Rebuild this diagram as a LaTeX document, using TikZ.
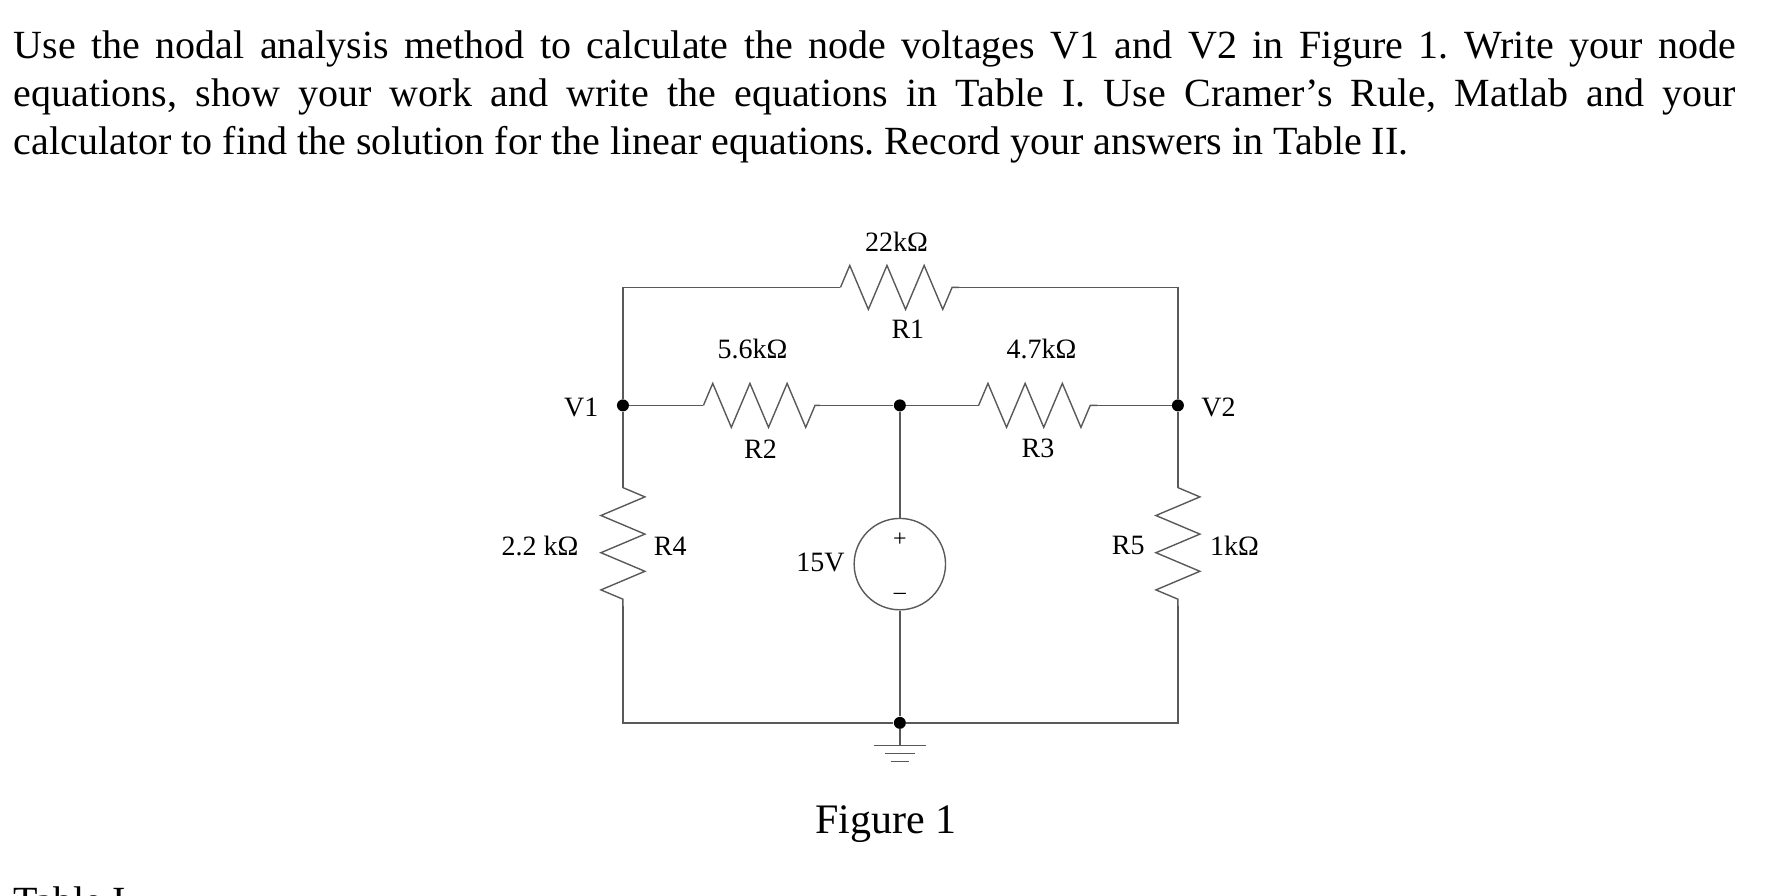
\documentclass[tikz,border=0pt]{standalone}
\usepackage{fontspec}
\setmainfont{Liberation Serif}
\usetikzlibrary{positioning, decorations.pathmorphing}
\tikzset{
    % wires and parts
    wire/.style={draw=black!65, line width=0.7pt},
    resistor/.style={wire, decorate, decoration={zigzag, segment length=18.6pt, amplitude=11pt}},
    junction/.style={circle, fill=black, inner sep=0pt, minimum size=6pt},
    source/.style={circle, wire, minimum size=45.7pt, inner sep=0pt},
    % text
    partLabel/.style={font=\fontsize{14}{16}\selectfont, inner sep=0pt},
    bodyText/.style={font=\fontsize{20}{24.1}\selectfont, inner sep=0pt, anchor=base west, text width=861pt, align=justify}
}
\frenchspacing
\begin{document}
\begin{tikzpicture}[x=0.571pt, y=-0.571pt]
    \useasboundingbox (0,0) rectangle (1560.5,784.6);

    % --- Task text ---
    \node (task) [bodyText] at (11.8,51) {Use the nodal analysis method to calculate the node voltages V1 and V2 in Figure 1. Write your node\linebreak
    equations, show your work and write the equations in Table I. Use Cramer’s Rule, Matlab and your\linebreak
    calculator to find the solution for the linear equations. Record your answers in Table II.};
    \node (table) [font=\fontsize{20}{24}\selectfont, inner sep=0pt, anchor=base west] at (11.8,801) {Table I};

    % --- Circuit corners ---
    \coordinate (tl) at (545.5,251.7);
    \coordinate (tr) at (1031.5,251.7);
    \coordinate (bl) at (545.5,633);
    \coordinate (br) at (1031.5,633);
    \node (v1) [junction] at (545.5,355) {};
    \node (v2) [junction] at (1031.5,355) {};
    \node (mid) [junction] at (788,355) {};
    \node (gnd) [junction] at (788,633) {};

    % --- Resistor ends ---
    \coordinate (r1a) at (736,251.7);  \coordinate (r1b) at (840,251.7);
    \coordinate (r2a) at (616,355);    \coordinate (r2b) at (718,355);
    \coordinate (r3a) at (857,355);    \coordinate (r3b) at (961,355);
    \coordinate (r4a) at (545.5,427);  \coordinate (r4b) at (545.5,531);
    \coordinate (r5a) at (1031.5,427); \coordinate (r5b) at (1031.5,531);

    % --- Wires ---
    \draw [wire] (v1) -- (tl) -- (r1a);
    \draw [wire] (r1b) -- (tr) -- (v2);
    \draw [wire] (v1) -- (r2a);
    \draw [wire] (r2b) -- (mid) -- (r3a);
    \draw [wire] (r3b) -- (v2);
    \draw [wire] (v1) -- (r4a);
    \draw [wire] (r4b) -- (bl) -- (gnd) -- (br) -- (r5b);
    \draw [wire] (v2) -- (r5a);

    % --- Resistors ---
    \draw [resistor] (r1a) -- (r1b);
    \draw [resistor] (r2a) -- (r2b);
    \draw [resistor] (r3a) -- (r3b);
    \draw [resistor] (r4a) -- (r4b);
    \draw [resistor] (r5a) -- (r5b);

    % --- Source ---
    \node (src) [source] at (788,494) {};
    \node (plus) [partLabel, font=\fontsize{12}{12}\selectfont] at (788,473) {+};
    \node (minus) [partLabel, font=\fontsize{12}{12}\selectfont] at (788,522) {--};
    \draw [wire] (mid) -- (src.north);
    \draw [wire] (src.south) -- (gnd);

    % --- Ground ---
    \coordinate (gtop) at (788,653);
    \draw [wire] (gnd) -- (gtop);
    \draw [wire] (765.5,653) -- (810.5,653);
    \draw [wire] (775,660) -- (801,660);
    \draw [wire] (780,667) -- (796,667);

    % --- Labels ---
    \node (r1val) [partLabel] at (785,212) {22kΩ};
    \node (r1name) [partLabel] at (795,288) {R1};
    \node (r2val) [partLabel] at (659,306) {5.6kΩ};
    \node (r2name) [partLabel] at (666,393) {R2};
    \node (r3val) [partLabel] at (912,306) {4.7kΩ};
    \node (r3name) [partLabel] at (909,393) {R3};
    \node (v1name) [partLabel] at (509,357) {V1};
    \node (v2name) [partLabel] at (1067,357) {V2};
    \node (r4val) [partLabel] at (473,478) {2.2 kΩ};
    \node (r4name) [partLabel] at (587,478) {R4};
    \node (srcval) [partLabel] at (718.6,492.6) {15V};
    \node (r5name) [partLabel] at (988,478) {R5};
    \node (r5val) [partLabel] at (1081,478) {1kΩ};
    \node (caption) [partLabel, font=\fontsize{21}{24}\selectfont] at (776,722) {Figure 1};
\end{tikzpicture}
\end{document}
